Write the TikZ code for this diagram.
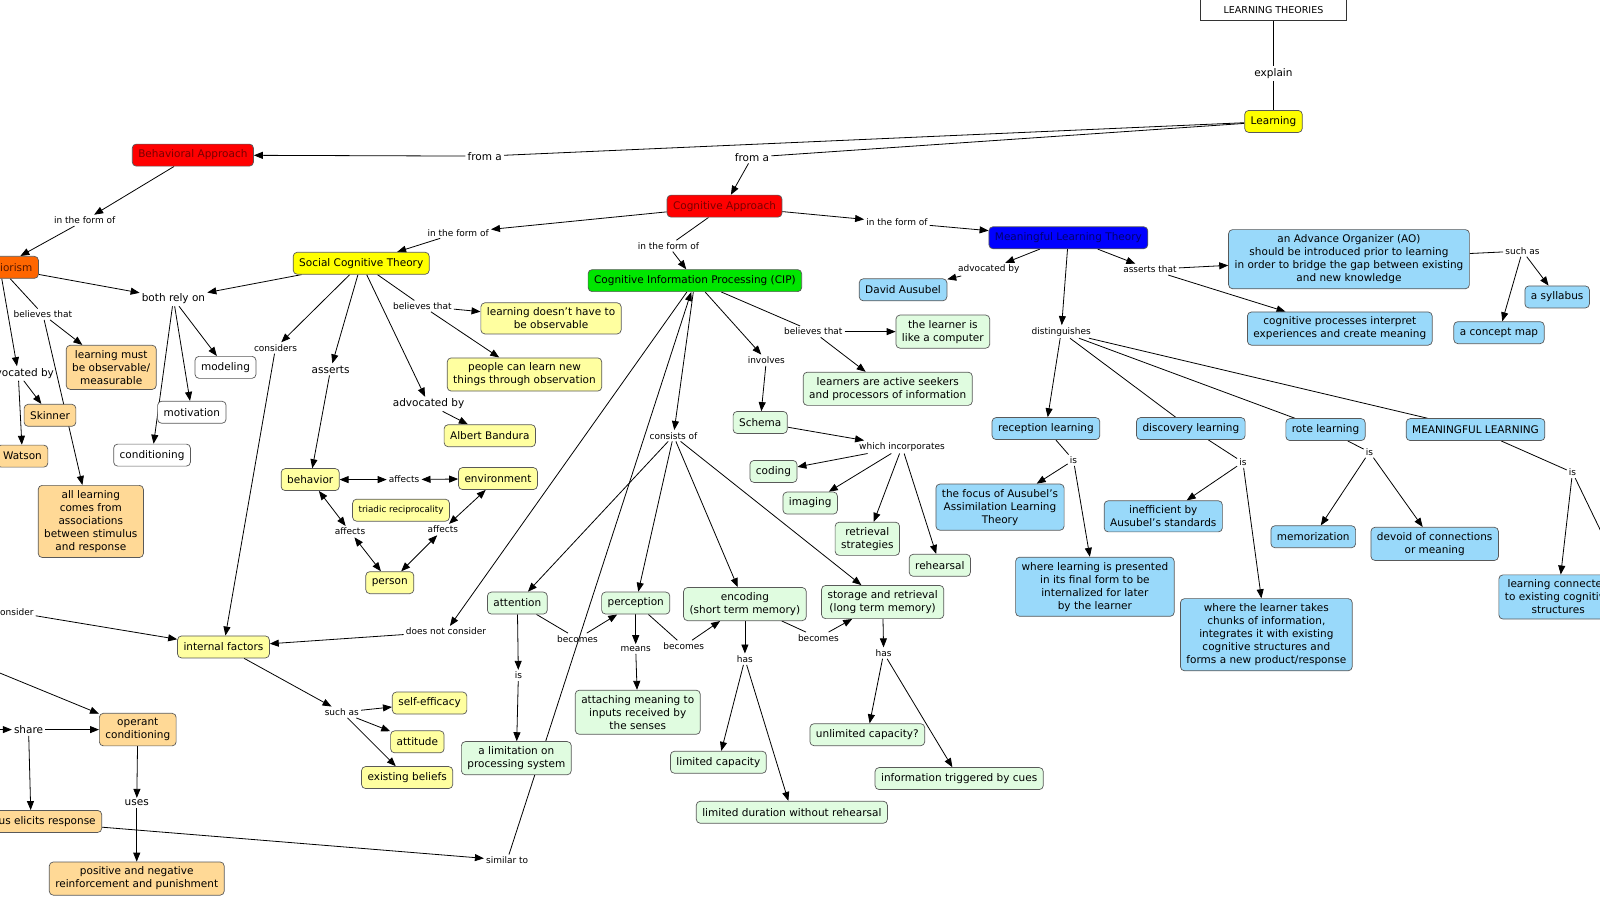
\documentclass[tikz,border=0pt]{standalone}
\usepackage{fontspec}
\setmainfont{DejaVu Sans}
\usetikzlibrary{arrows.meta}

\definecolor{cmapYellow}{RGB}{255,255,0}
\definecolor{cmapPaleYellow}{RGB}{255,255,160}
\definecolor{cmapPeach}{RGB}{255,217,150}
\definecolor{cmapRed}{RGB}{255,0,0}
\definecolor{cmapDarkRed}{RGB}{120,0,0}
\definecolor{cmapOrange}{RGB}{255,102,0}
\definecolor{cmapBrown}{RGB}{90,25,0}
\definecolor{cmapGreen}{RGB}{0,230,0}
\definecolor{cmapMint}{RGB}{224,252,224}
\definecolor{cmapBlue}{RGB}{0,0,255}
\definecolor{cmapNavy}{RGB}{0,0,110}
\definecolor{cmapSky}{RGB}{153,217,250}

\pgfdeclarelayer{paper}
\pgfdeclarelayer{links}
\pgfsetlayers{paper,links,main}

\begin{document}
\begin{tikzpicture}[x=1.0204pt, y=-1.0204pt,
        concept/.style={draw=black!65, line width=0.7pt, rounded corners=4pt, align=center,
            font=\fontsize{10.5}{13}\selectfont, inner xsep=6pt, inner ysep=5pt, minimum height=22pt},
        peach/.style={concept, fill=cmapPeach},
        pale/.style={concept, fill=cmapPaleYellow},
        mint/.style={concept, fill=cmapMint},
        sky/.style={concept, fill=cmapSky},
        blank/.style={concept, fill=white},
        linkword/.style={font=\fontsize{9}{11}\selectfont, inner sep=2pt},
        linkbig/.style={font=\fontsize{10.5}{13}\selectfont, inner sep=2pt},
        linkline/.style={draw=black, line width=0.8pt},
        linkarr/.style={linkline, -{Triangle[length=9pt,width=7pt]}},
        twoway/.style={linkline, {Triangle[length=9pt,width=7pt]}-{Triangle[length=9pt,width=7pt]}}]
                \useasboundingbox (0,0) rectangle (1568,882);
                \clip (0,0) rectangle (1568,882);

                \node[draw=black!80, line width=0.8pt, fill=white, font=\fontsize{9.5}{11}\selectfont,
                    minimum width=146pt, minimum height=21pt] (theories) at (1248,10) {LEARNING THEORIES};
                \node[linkbig] (explain) at (1248,72) {explain};
                \node[concept, fill=cmapYellow] (learning) at (1248,119) {Learning};
                \node[linkbig] (fromB) at (475,153) {from a};
                \node[linkbig] (fromC) at (737,154) {from a};
                \node[concept, fill=cmapRed, text=cmapDarkRed] (behav) at (189,152) {Behavioral Approach};
                \node[concept, fill=cmapRed, text=cmapDarkRed] (cogn) at (710,202) {Cognitive Approach};
                \node[linkword] (formBh) at (83,216) {in the form of};
                \node[linkword] (formSCT) at (449,228) {in the form of};
                \node[linkword] (formCIP) at (655,241) {in the form of};
                \node[linkword] (formMLT) at (879,218) {in the form of};
                \node[concept, fill=cmapOrange, text=cmapBrown, anchor=east] (behaviorism) at (38,262) {Behaviorism};
                \node[concept, fill=cmapYellow] (sct) at (354,258) {Social Cognitive Theory};
                \node[concept, fill=cmapGreen] (cip) at (681,275) {Cognitive Information Processing (CIP)};
                \node[concept, fill=cmapBlue, text=cmapNavy] (mlt) at (1047,233) {Meaningful Learning Theory};

                \node[linkword] (believesBh) at (42,308) {believes that};
                \node[linkbig, anchor=east] (advBh) at (55,366) {advocated by};
                \node[peach] (skinner) at (49,407) {Skinner};
                \node[peach] (watson) at (22,447) {Watson};
                \node[peach] (mustobs) at (109,360) {learning must\\be observable/\\measurable};
                \node[peach] (alllearn) at (89,511) {all learning\\comes from\\associations\\between stimulus\\and response};
                \node[linkbig] (rely) at (170,293) {both rely on};
                \node[blank] (modeling) at (221,360) {modeling};
                \node[blank] (motivation) at (188,404) {motivation};
                \node[blank] (conditioning) at (149,446) {conditioning};

                \node[linkword] (considers) at (270,341) {considers};
                \node[linkbig] (asserts) at (324,362) {asserts};
                \node[linkword] (believesSCT) at (414,300) {believes that};
                \node[linkbig] (advSCT) at (420,396) {advocated by};
                \node[pale] (notobs) at (540,312) {learning doesn't have to\\be observable};
                \node[pale] (learnobs) at (514,367) {people can learn new\\things through observation};
                \node[pale] (bandura) at (480,427) {Albert Bandura};
                \node[pale] (behavior) at (304,470) {behavior};
                \node[linkword] (affTop) at (396,470) {affects};
                \node[pale] (environment) at (488,469) {environment};
                \node[pale, font=\fontsize{8.8}{11}\selectfont] (triadic) at (393,500) {triadic reciprocality};
                \node[linkword] (affLeft) at (343,521) {affects};
                \node[linkword] (affRight) at (434,519) {affects};
                \node[pale] (person) at (382,571) {person};
                \node[pale] (internal) at (219,634) {internal factors};
                \node[linkword] (suchIF) at (335,698) {such as};
                \node[pale] (selfeff) at (421,689) {self-efficacy};
                \node[pale] (attitude) at (409,727) {attitude};
                \node[pale] (beliefs) at (399,762) {existing beliefs};
                \node[linkword, anchor=east] (consider) at (35,600) {consider};
                \node[linkword] (notconsider) at (437,619) {does not consider};

                \coordinate (offShare) at (-60,715);
                \coordinate (offOperant) at (-60,635);
                \node[linkbig] (share) at (28,715) {share};
                \node[peach] (operant) at (135,715) {operant\\conditioning};
                \node[linkbig] (uses) at (134,787) {uses};
                \node[peach] (reinforce) at (134,861) {positive and negative\\reinforcement and punishment};
                \node[peach, anchor=east] (stimulus) at (100,805) {stimulus elicits response};
                \node[linkword] (similar) at (497,843) {similar to};

                \node[linkword] (believesCIP) at (797,325) {believes that};
                \node[mint] (computer) at (924,325) {the learner is\\like a computer};
                \node[mint] (seekers) at (870,381) {learners are active seekers\\and processors of information};
                \node[linkword] (involves) at (751,353) {involves};
                \node[mint] (schema) at (745,414) {Schema};
                \node[linkword] (incorp) at (884,438) {which incorporates};
                \node[mint] (coding) at (758,462) {coding};
                \node[mint] (imaging) at (794,493) {imaging};
                \node[mint] (retrieval) at (850,528) {retrieval\\strategies};
                \node[mint] (rehearsal) at (921,554) {rehearsal};
                \node[linkword] (consists) at (660,427) {consists of};
                \node[mint] (attention) at (507,591) {attention};
                \node[mint] (perception) at (623,591) {perception};
                \node[mint] (encoding) at (730,592) {encoding\\(short term memory)};
                \node[mint] (storage) at (865,590) {storage and retrieval\\(long term memory)};
                \node[linkword] (becomesA) at (566,626) {becomes};
                \node[linkword] (becomesP) at (670,633) {becomes};
                \node[linkword] (becomesE) at (802,625) {becomes};
                \node[linkword] (means) at (623,636) {means};
                \node[linkword] (isAtt) at (508,662) {is};
                \node[mint] (attaching) at (625,698) {attaching meaning to\\inputs received by\\the senses};
                \node[mint] (limitation) at (506,743) {a limitation on\\processing system};
                \node[linkword] (hasE) at (730,646) {has};
                \node[linkword] (hasS) at (866,640) {has};
                \node[mint] (limcap) at (704,747) {limited capacity};
                \node[mint] (limdur) at (776,796) {limited duration without rehearsal};
                \node[mint] (unlim) at (850,720) {unlimited capacity?};
                \node[mint] (cues) at (940,763) {information triggered by cues};

                \node[linkword] (advMLT) at (969,264) {advocated by};
                \node[sky] (ausubel) at (885,284) {David Ausubel};
                \node[linkword] (assertsMLT) at (1127,264) {asserts that};
                \node[sky] (organizer) at (1322,254) {an Advance Organizer (AO)\\should be introduced prior to learning\\in order to bridge the gap between existing\\and new knowledge};
                \node[sky] (interpret) at (1313,322) {cognitive processes interpret\\experiences and create meaning};
                \node[linkword] (suchAO) at (1492,246) {such as};
                \node[sky] (syllabus) at (1526,291) {a syllabus};
                \node[sky] (cmap) at (1469,326) {a concept map};
                \node[linkword] (disting) at (1040,325) {distinguishes};
                \node[sky] (reception) at (1025,420) {reception learning};
                \node[sky] (discovery) at (1167,420) {discovery learning};
                \node[sky] (rote) at (1299,421) {rote learning};
                \node[sky] (meaningful) at (1446,421) {MEANINGFUL LEARNING};
                \node[linkword] (isRec) at (1052,451) {is};
                \node[linkword] (isDis) at (1218,453) {is};
                \node[linkword] (isRote) at (1342,443) {is};
                \node[linkword] (isMean) at (1541,463) {is};
                \node[sky] (focus) at (980,497) {the focus of Ausubel's\\Assimilation Learning\\Theory};
                \node[sky] (presented) at (1073,575) {where learning is presented\\in its final form to be\\internalized for later\\by the learner};
                \node[sky] (inefficient) at (1140,506) {inefficient by\\Ausubel's standards};
                \node[sky] (chunks) at (1241,622) {where the learner takes\\chunks of information,\\integrates it with existing\\cognitive structures and\\forms a new product/response};
                \node[sky] (memor) at (1287,526) {memorization};
                \node[sky] (devoid) at (1406,533) {devoid of connections\\or meaning};
                \node[sky] (connected) at (1527,585) {learning connected\\to existing cognitive\\structures};
                \coordinate (offMean) at (1600,585);

                \begin{pgfonlayer}{paper}
                    \fill[white] (0,0) rectangle (1568,882);
                \end{pgfonlayer}

                \begin{pgfonlayer}{links}
                \clip (0,0) rectangle (1568,882);
                \draw[linkline]
                    (theories) edge (explain)
                    (explain) edge (learning)
                    (learning) edge (fromB)
                    (learning) edge (fromC)
                    (cogn) edge (formCIP)
                    (behaviorism) edge (believesBh)
                    (sct) edge (believesSCT)
                    (cip) edge (believesCIP)
                    (reception) edge (isRec)
                    (discovery) edge (isDis)
                    (rote) edge (isRote)
                    (meaningful) edge (isMean)
                    (organizer) edge (suchAO)
                    (attention) edge (becomesA)
                    (perception) edge (becomesP)
                    (encoding) edge (becomesE)
                    (disting) edge (discovery)
                    (disting) edge (rote)
                    (disting) edge (meaningful)
                    ;
                \draw[linkarr]
                    (fromB) edge (behav)
                    (fromC) edge (cogn)
                    (behav) edge (formBh)
                    (formBh) edge (behaviorism)
                    (cogn) edge (formSCT)
                    (formSCT) edge (sct)
                    (formCIP) edge (cip)
                    (cogn) edge (formMLT)
                    (formMLT) edge (mlt)
                    (behaviorism) edge (rely)
                    (sct) edge (rely)
                    (rely) edge (modeling)
                    (rely) edge (motivation)
                    (rely) edge (conditioning)
                    (behaviorism) edge (advBh)
                    (advBh) edge (skinner)
                    (advBh) edge (watson)
                    (believesBh) edge (mustobs)
                    (believesBh) edge (alllearn)
                    (sct) edge (considers)
                    (considers) edge (internal)
                    (sct) edge (asserts)
                    (asserts) edge (behavior)
                    (sct) edge (advSCT)
                    (advSCT) edge (bandura)
                    (believesSCT) edge (notobs)
                    (believesSCT) edge (learnobs)
                    (consider) edge (internal)
                    (cip) edge (notconsider)
                    (notconsider) edge (internal)
                    (internal) edge (suchIF)
                    (suchIF) edge (selfeff)
                    (suchIF) edge (attitude)
                    (suchIF) edge (beliefs)
                    (offShare) edge (share)
                    (share) edge (operant)
                    (share) edge (stimulus)
                    (offOperant) edge (operant)
                    (operant) edge (uses)
                    (uses) edge (reinforce)
                    (stimulus) edge (similar)
                    (similar) edge (cip)
                    (believesCIP) edge (computer)
                    (believesCIP) edge (seekers)
                    (cip) edge (involves)
                    (involves) edge (schema)
                    (schema) edge (incorp)
                    (incorp) edge (coding)
                    (incorp) edge (imaging)
                    (incorp) edge (retrieval)
                    (incorp) edge (rehearsal)
                    (cip) edge (consists)
                    (consists) edge (attention)
                    (consists) edge (perception)
                    (consists) edge (encoding)
                    (consists) edge (storage)
                    (becomesA) edge (perception)
                    (becomesP) edge (encoding)
                    (becomesE) edge (storage)
                    (perception) edge (means)
                    (means) edge (attaching)
                    (attention) edge (isAtt)
                    (isAtt) edge (limitation)
                    (encoding) edge (hasE)
                    (hasE) edge (limcap)
                    (hasE) edge (limdur)
                    (storage) edge (hasS)
                    (hasS) edge (unlim)
                    (hasS) edge (cues)
                    (mlt) edge (advMLT)
                    (advMLT) edge (ausubel)
                    (mlt) edge (assertsMLT)
                    (assertsMLT) edge (organizer)
                    (assertsMLT) edge (interpret)
                    (suchAO) edge (syllabus)
                    (suchAO) edge (cmap)
                    (mlt) edge (disting)
                    (disting) edge (reception)
                    (isRec) edge (focus)
                    (isRec) edge (presented)
                    (isDis) edge (inefficient)
                    (isDis) edge (chunks)
                    (isRote) edge (memor)
                    (isRote) edge (devoid)
                    (isMean) edge (connected)
                    (isMean) edge (offMean)
                    ;
                \draw[twoway]
                    (behavior) edge (affTop)
                    (affTop) edge (environment)
                    (behavior) edge (affLeft)
                    (affLeft) edge (person)
                    (environment) edge (affRight)
                    (affRight) edge (person)
                    ;
                \end{pgfonlayer}
            \end{tikzpicture}
\end{document}
